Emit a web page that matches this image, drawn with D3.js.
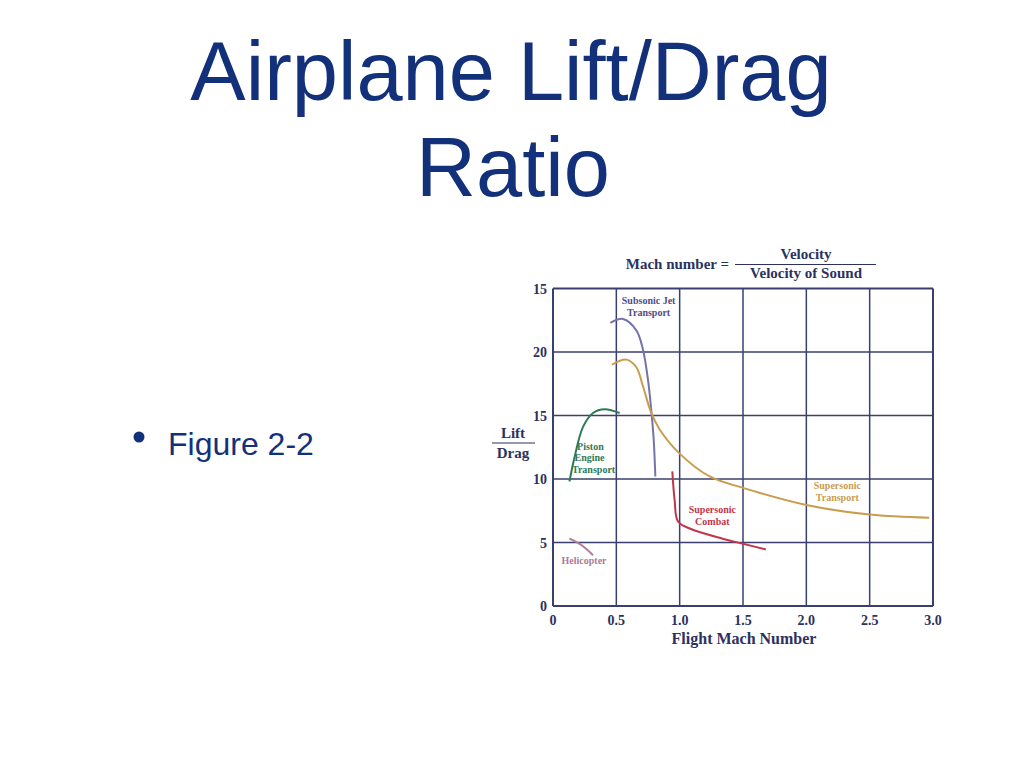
<!DOCTYPE html>
<html>
<head>
<meta charset="utf-8">
<script src="https://cdn.jsdelivr.net/npm/d3@7"></script>
<style>
  body { margin: 0; background: #fff; }
  svg text { font-family: "Liberation Serif", "DejaVu Serif", serif; font-weight: bold; }
  svg text.sans { font-family: "Liberation Sans", Arial, sans-serif; font-weight: normal; }
</style>
</head>
<body>
<script>
// ── Data ────────────────────────────────────────────────────────────────
const xTicks = [0, 0.5, 1.0, 1.5, 2.0, 2.5, 3.0];
const xTickLabels = ["0", "0.5", "1.0", "1.5", "2.0", "2.5", "3.0"];
const yTicks = [0, 5, 10, 15, 20, 25];
const yTickLabels = ["0", "5", "10", "15", "20", "15"];

const subsonicJet = [[0.453,22.3],[0.553,22.6],[0.658,21.7],[0.71,20.2],[0.75,17.8],[0.776,15.4],[0.795,13.1],[0.808,10.2]];
const supersonicTransport = [[0.466,19.0],[0.579,19.4],[0.658,18.8],[0.71,17.3],[0.776,15.2],[0.842,13.9],[1.0,12.0],[1.237,10.2],[1.5,9.3],[2.0,7.95],[2.5,7.2],[2.97,6.95]];
const pistonEngine = [[0.13,9.8],[0.171,11.75],[0.237,14.1],[0.316,15.2],[0.408,15.5],[0.526,15.2]];
const supersonicCombat = [[0.942,10.6],[0.96,8.35],[0.987,6.65],[1.08,6.1],[1.34,5.3],[1.5,4.9],[1.68,4.45]];
const helicopter = [[0.13,5.3],[0.224,4.8],[0.316,4.0]];

const seriesList = [
  { data: subsonicJet, color: "#7474aa" },
  { data: supersonicTransport, color: "#c99d4f" },
  { data: pistonEngine, color: "#2f7a55" },
  { data: supersonicCombat, color: "#c0364a" },
  { data: helicopter, color: "#b07a98" },
];

// label lines: [x, y, text, anchor, color]
const curveLabels = [
  [0.755, 23.8, "Subsonic Jet", "middle", "#4e4e88"],
  [0.755, 22.85, "Transport", "middle", "#4e4e88"],
  [0.19, 12.3, "Piston", "start", "#2f7a55"],
  [0.17, 11.4, "Engine", "start", "#2f7a55"],
  [0.15, 10.5, "Transport", "start", "#2f7a55"],
  [2.245, 9.2, "Supersonic", "middle", "#c99d4f"],
  [2.245, 8.3, "Transport", "middle", "#c99d4f"],
  [1.258, 7.3, "Supersonic", "middle", "#c0364a"],
  [1.258, 6.4, "Combat", "middle", "#c0364a"],
  [0.245, 3.3, "Helicopter", "middle", "#b07a98"],
];

// ── Layout ──────────────────────────────────────────────────────────────
const svg = d3.select("body").append("svg").attr("width", 1024).attr("height", 768);
const titleColor = "#13307a";

svg.append("text").attr("class", "sans").attr("x", 511).attr("y", 100)
  .attr("text-anchor", "middle").attr("font-size", 83).attr("fill", titleColor).text("Airplane Lift/Drag");
svg.append("text").attr("class", "sans").attr("x", 513).attr("y", 196)
  .attr("text-anchor", "middle").attr("font-size", 83).attr("fill", titleColor).text("Ratio");
svg.append("circle").attr("cx", 139).attr("cy", 437).attr("r", 5.5).attr("fill", titleColor);
svg.append("text").attr("class", "sans").attr("x", 168).attr("y", 455)
  .attr("font-size", 32).attr("fill", titleColor).text("Figure 2-2");

const x = d3.scaleLinear().domain([0, 3]).range([553, 933]);
const y = d3.scaleLinear().domain([0, 25]).range([606, 288.5]);
const ink = "#3a3f6e";
const txt = "#2c3160";

const g = svg.append("g");
// grid
g.selectAll(".vx").data(xTicks).join("line")
  .attr("x1", d => x(d)).attr("x2", d => x(d)).attr("y1", y(0)).attr("y2", y(25))
  .attr("stroke", ink).attr("stroke-width", d => (d === 0 || d === 3) ? 2 : 1.5);
g.selectAll(".hy").data(yTicks).join("line")
  .attr("x1", x(0)).attr("x2", x(3)).attr("y1", d => y(d)).attr("y2", d => y(d))
  .attr("stroke", ink).attr("stroke-width", d => (d === 0 || d === 25) ? 2 : 1.5);

// tick labels
g.selectAll(".xt").data(xTicks).join("text")
  .attr("x", d => x(d)).attr("y", y(0) + 19).attr("text-anchor", "middle")
  .attr("font-size", 14).attr("fill", txt).text((d, i) => xTickLabels[i]);
g.selectAll(".yt").data(yTicks).join("text")
  .attr("x", x(0) - 6).attr("y", d => y(d) + 5).attr("text-anchor", "end")
  .attr("font-size", 14).attr("fill", txt).text((d, i) => yTickLabels[i]);

svg.append("text").attr("x", 744).attr("y", 644).attr("text-anchor", "middle")
  .attr("font-size", 16).attr("fill", txt).text("Flight Mach Number");

// Lift / Drag
svg.append("text").attr("x", 513).attr("y", 438).attr("text-anchor", "middle")
  .attr("font-size", 15).attr("fill", txt).text("Lift");
svg.append("line").attr("x1", 492).attr("x2", 535).attr("y1", 443).attr("y2", 443)
  .attr("stroke", txt).attr("stroke-width", 1);
svg.append("text").attr("x", 513).attr("y", 458).attr("text-anchor", "middle")
  .attr("font-size", 15).attr("fill", txt).text("Drag");

// Mach formula
svg.append("text").attr("x", 729).attr("y", 269).attr("text-anchor", "end")
  .attr("font-size", 15).attr("fill", txt).text("Mach number =");
svg.append("text").attr("x", 806).attr("y", 259).attr("text-anchor", "middle")
  .attr("font-size", 15).attr("fill", txt).text("Velocity");
svg.append("line").attr("x1", 735).attr("x2", 876).attr("y1", 264.5).attr("y2", 264.5)
  .attr("stroke", txt).attr("stroke-width", 1);
svg.append("text").attr("x", 806).attr("y", 278).attr("text-anchor", "middle")
  .attr("font-size", 15).attr("fill", txt).text("Velocity of Sound");

// curves
const line = d3.line().x(d => x(d[0])).y(d => y(d[1])).curve(d3.curveCatmullRom.alpha(0.5));
seriesList.forEach(s => {
  g.append("path").datum(s.data).attr("d", line).attr("fill", "none")
    .attr("stroke", s.color).attr("stroke-width", 2);
});

g.selectAll(".cl").data(curveLabels).join("text")
  .attr("x", d => x(d[0])).attr("y", d => y(d[1])).attr("text-anchor", d => d[3])
  .attr("font-size", 10).attr("fill", d => d[4]).text(d => d[2]);
</script>
</body>
</html>
